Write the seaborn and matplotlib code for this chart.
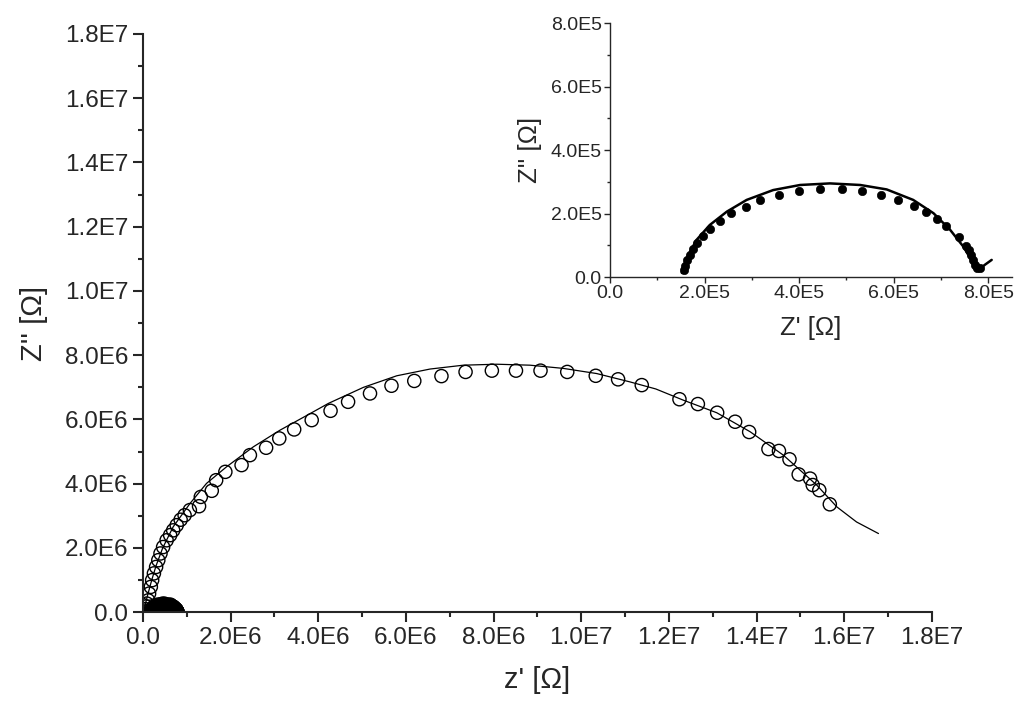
import numpy as np
import pandas as pd
import matplotlib
matplotlib.use("Agg")
import matplotlib.pyplot as plt
import seaborn as sns
from matplotlib.ticker import FuncFormatter, MultipleLocator

# main sample, measured points (x, y in units of 1E6 ohm)
main_x = [0.03, 0.05, 0.07, 0.09, 0.12, 0.14, 0.18, 0.21, 0.25, 0.30, 0.35, 0.40, 0.46,
          0.54, 0.62, 0.69, 0.77, 0.86, 0.95, 1.07, 1.28, 1.32, 1.57, 1.67, 1.88, 2.25,
          2.44, 2.81, 3.11, 3.45, 3.85, 4.28, 4.68, 5.18, 5.67, 6.19, 6.81, 7.36, 7.96,
          8.51, 9.07, 9.68, 10.33, 10.84, 11.38, 12.24, 12.66, 13.10, 13.51, 13.83, 14.27,
          14.51, 14.75, 14.96, 15.22, 15.28, 15.43, 15.67]
main_y = [0.05, 0.10, 0.18, 0.27, 0.37, 0.58, 0.79, 1.00, 1.21, 1.41, 1.62, 1.83, 2.03,
          2.24, 2.40, 2.55, 2.71, 2.88, 3.02, 3.18, 3.30, 3.59, 3.78, 4.11, 4.37, 4.58,
          4.89, 5.12, 5.41, 5.69, 5.98, 6.27, 6.55, 6.81, 7.05, 7.20, 7.35, 7.48, 7.52,
          7.52, 7.52, 7.48, 7.36, 7.25, 7.07, 6.63, 6.48, 6.21, 5.93, 5.61, 5.08,
          5.02, 4.76, 4.29, 4.16, 3.96, 3.80, 3.36]

# main sample, fitted curve
fit_x = [0.02, 0.10, 0.20, 0.30, 0.45, 0.69, 1.07, 1.45, 1.91, 2.52, 3.13, 3.73, 4.23,
         5.03, 5.79, 6.55, 7.31, 8.07, 8.83, 9.59, 10.35, 11.11, 11.70, 12.33, 13.09,
         13.85, 14.61, 15.37, 15.83, 16.28, 16.78]
fit_y = [0.05, 0.50, 1.00, 1.45, 2.00, 2.66, 3.38, 4.01, 4.53, 5.15, 5.67, 6.12, 6.50,
         7.00, 7.36, 7.57, 7.69, 7.72, 7.69, 7.59, 7.43, 7.17, 6.95, 6.60, 6.21,
         5.62, 4.89, 3.96, 3.28, 2.81, 2.45]

# second sample (inset), measured points (units of 1E5 ohm)
ins_x = [1.565, 1.59, 1.63, 1.69, 1.75, 1.83, 1.97, 2.11, 2.33, 2.56, 2.87, 3.17, 3.57,
         4.00, 4.44, 4.90, 5.33, 5.72, 6.08, 6.43, 6.69, 6.91, 7.10, 7.38, 7.53, 7.58,
         7.63, 7.67, 7.72, 7.77, 7.82]
ins_y = [0.21, 0.36, 0.54, 0.70, 0.88, 1.07, 1.30, 1.51, 1.78, 2.01, 2.22, 2.43, 2.59,
         2.72, 2.77, 2.77, 2.71, 2.59, 2.43, 2.24, 2.05, 1.83, 1.61, 1.26, 0.98, 0.86,
         0.70, 0.54, 0.39, 0.30, 0.28]

# second sample, fitted curve
ins_fit_x = [1.52, 1.62, 1.83, 2.11, 2.47, 2.89, 3.45, 4.02, 4.65, 5.29, 5.85, 6.41,
             6.84, 7.19, 7.47, 7.68, 7.81, 7.93, 8.07]
ins_fit_y = [0.13, 0.60, 1.17, 1.64, 2.06, 2.43, 2.74, 2.90, 2.95, 2.90, 2.76, 2.43,
             2.01, 1.49, 0.96, 0.44, 0.25, 0.39, 0.54]

main = pd.DataFrame({"x": np.array(main_x) * 1e6, "y": np.array(main_y) * 1e6})
main_fit = pd.DataFrame({"x": np.array(fit_x) * 1e6, "y": np.array(fit_y) * 1e6})
ins = pd.DataFrame({"x": np.array(ins_x) * 1e5, "y": np.array(ins_y) * 1e5})
ins_fit = pd.DataFrame({"x": np.array(ins_fit_x) * 1e5, "y": np.array(ins_fit_y) * 1e5})

sns.set_style("ticks")
plt.rcParams['font.family'] = ['Liberation Sans', 'DejaVu Sans']


def sci(v, pos):
    if abs(v) < 1e-9:
        return "0.0"
    e = int(np.floor(np.log10(abs(v)) + 1e-9))
    return f"{v / 10 ** e:.1f}E{e}"


fig = plt.figure(figsize=(10.24, 7.22), dpi=100)
ax = fig.add_axes([0.1396, 0.152, 0.7705, 0.801])

sns.lineplot(data=main_fit, x="x", y="y", sort=False, color="black", lw=0.9, ax=ax)
sns.scatterplot(data=main, x="x", y="y", marker="o", s=90, facecolor="none",
                edgecolor="black", linewidth=1.0, ax=ax)
sns.scatterplot(data=ins, x="x", y="y", marker="o", s=90, color="black",
                edgecolor="black", ax=ax)

ax.set_xlim(0, 1.8e7)
ax.set_ylim(0, 1.8e7)
ax.xaxis.set_major_locator(MultipleLocator(2e6))
ax.xaxis.set_minor_locator(MultipleLocator(1e6))
ax.yaxis.set_major_locator(MultipleLocator(2e6))
ax.yaxis.set_minor_locator(MultipleLocator(1e6))
ax.xaxis.set_major_formatter(FuncFormatter(sci))
ax.yaxis.set_major_formatter(FuncFormatter(sci))
ax.tick_params(which="major", direction="out", length=7, width=1.5, labelsize=17.5)
ax.tick_params(which="minor", direction="out", length=3.5, width=1.5)
for s in ["left", "bottom"]:
    ax.spines[s].set_linewidth(1.5)
sns.despine(ax=ax)
ax.set_xlabel("z' [\u03a9]", fontsize=21, labelpad=12)
ax.set_ylabel("Z'' [\u03a9]", fontsize=21, labelpad=12)

# inset
ax2 = fig.add_axes([0.5957, 0.6163, 0.3926, 0.3517])
sns.lineplot(data=ins_fit, x="x", y="y", sort=False, color="black", lw=1.8, ax=ax2)
sns.scatterplot(data=ins, x="x", y="y", marker="o", s=36, color="black",
                edgecolor="black", ax=ax2)
ax2.set_xlim(0, 8.5e5)
ax2.set_ylim(0, 8e5)
ax2.xaxis.set_major_locator(MultipleLocator(2e5))
ax2.xaxis.set_minor_locator(MultipleLocator(1e5))
ax2.yaxis.set_major_locator(MultipleLocator(2e5))
ax2.yaxis.set_minor_locator(MultipleLocator(1e5))
ax2.xaxis.set_major_formatter(FuncFormatter(sci))
ax2.yaxis.set_major_formatter(FuncFormatter(sci))
ax2.tick_params(which="major", direction="out", length=4, width=1.0, labelsize=14, pad=2)
ax2.tick_params(which="minor", direction="out", length=2, width=1.0)
for s in ["left", "bottom"]:
    ax2.spines[s].set_linewidth(1.0)
sns.despine(ax=ax2)
ax2.patch.set_alpha(0)
ax2.set_xlabel("Z' [\u03a9]", fontsize=18.5, labelpad=10)
ax2.set_ylabel("Z'' [\u03a9]", fontsize=18.5, labelpad=6)

fig.savefig("out.png", dpi=100, facecolor="white")
